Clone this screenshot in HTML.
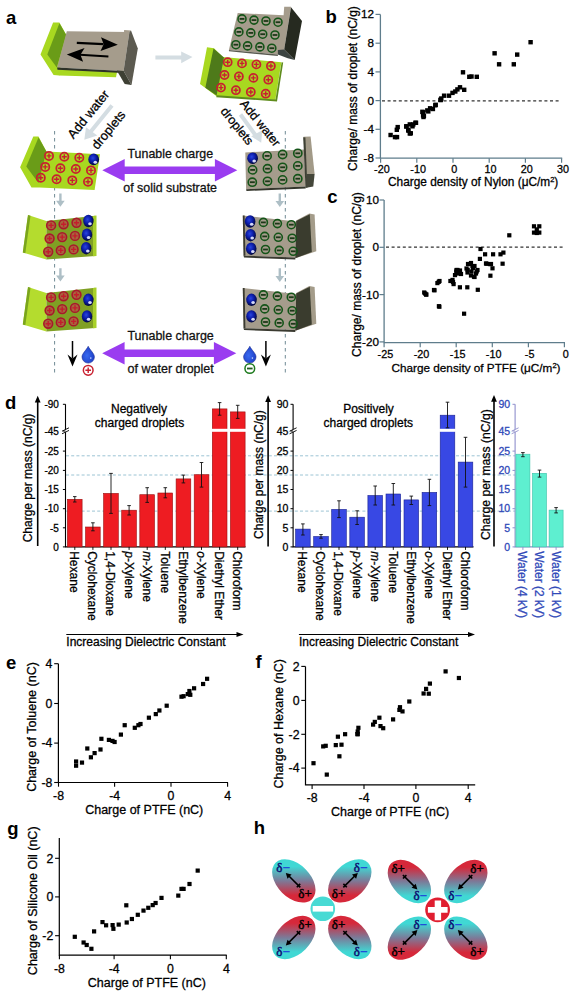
<!DOCTYPE html>
<html><head><meta charset="utf-8"><style>
html,body{margin:0;padding:0;background:#fff;}
svg{display:block;font-family:"Liberation Sans", sans-serif;}
</style></head><body>
<svg width="571" height="992" viewBox="0 0 571 992">
<rect width="571" height="992" fill="#fff"/>
<defs><radialGradient id="ball" cx="0.42" cy="0.38" r="0.62"><stop offset="0" stop-color="#2844e0"/><stop offset="0.5" stop-color="#0c1ca8"/><stop offset="1" stop-color="#030838"/></radialGradient><radialGradient id="drop" cx="0.4" cy="0.55" r="0.7"><stop offset="0" stop-color="#3a6af0"/><stop offset="1" stop-color="#1838c0"/></radialGradient></defs>
<text x="6.0" y="23.6" font-size="18.5" text-anchor="start" fill="#000" font-weight="bold" >a</text>
<polygon points="53.1,22.4 59.4,22.4 66.3,35.0 60.0,70.0 59.4,75.4 53.6,74.9 40.5,54.4" fill="#a8d820" />
<polygon points="59.4,23.2 66.3,35.0 56.8,67.5 47.3,54.4" fill="#6a9c18" />
<polygon points="57.3,69.0 117.0,72.0 116.0,77.3 59.0,75.4" fill="#a8d820" />
<polygon points="66.8,31.3 129.4,32.1 123.6,71.0 57.1,67.5" fill="#a59c8c" />
<polygon points="57.1,67.5 123.6,71.0 123.0,73.0 57.5,69.8" fill="#2e3228" />
<polygon points="124.1,30.0 131.0,30.5 129.4,32.1 124.0,32.0" fill="#a59c8c" />
<polygon points="131.0,30.5 137.8,48.4 131.5,85.1 123.6,71.0 129.4,32.1" fill="#5c5a50" />
<polygon points="116.8,70.4 123.6,71.0 131.5,85.1 124.7,84.1" fill="#3e4034" />
<path d="M76.8 42.9L103.5 44.1" stroke="#000" stroke-width="2.1"/>
<polygon points="117.8,44.7 101.0,37.3 103.7,44.2 100.5,51.0" fill="#000" />
<path d="M80 54.7L108.4 56.5" stroke="#000" stroke-width="2.1"/>
<polygon points="66.8,54.4 84.6,48.1 80.4,54.7 83.1,61.8" fill="#000" />
<path d="M155.4 55.4H181.2V51.4L192.5 57.1L181.2 63.3V59.4H155.4Z" fill="#d4dde2"/>
<polygon points="237.7,13.1 283.6,15.2 284.2,6.8 291.0,6.8 284.2,49.4 277.9,54.6 228.9,49.9" fill="#a59c8c" />
<polygon points="291.0,7.2 302.0,21.0 294.7,59.9 284.2,49.4" fill="#262a20" />
<polygon points="277.9,50.0 284.2,49.4 294.7,59.9 287.8,58.3 277.9,54.6" fill="#3c4442" />
<polygon points="228.9,49.9 277.9,54.6 277.9,56.0 229.0,51.3" fill="#5a5a50" />
<circle cx="242.0" cy="18.9" r="4.00" fill="none" stroke="#145418" stroke-width="1.6"/>
<path d="M239.6 18.9H244.4" stroke="#1c3818" stroke-width="1.8"/>
<circle cx="254.0" cy="20.1" r="4.00" fill="none" stroke="#145418" stroke-width="1.6"/>
<path d="M251.6 20.1H256.4" stroke="#1c3818" stroke-width="1.8"/>
<circle cx="266.0" cy="21.0" r="4.00" fill="none" stroke="#145418" stroke-width="1.6"/>
<path d="M263.6 21.0H268.4" stroke="#1c3818" stroke-width="1.8"/>
<circle cx="278.0" cy="22.2" r="4.00" fill="none" stroke="#145418" stroke-width="1.6"/>
<path d="M275.6 22.2H280.4" stroke="#1c3818" stroke-width="1.8"/>
<circle cx="238.9" cy="31.9" r="4.00" fill="none" stroke="#145418" stroke-width="1.6"/>
<path d="M236.5 31.9H241.3" stroke="#1c3818" stroke-width="1.8"/>
<circle cx="250.8" cy="32.9" r="4.00" fill="none" stroke="#145418" stroke-width="1.6"/>
<path d="M248.4 32.9H253.2" stroke="#1c3818" stroke-width="1.8"/>
<circle cx="262.7" cy="34.2" r="4.00" fill="none" stroke="#145418" stroke-width="1.6"/>
<path d="M260.3 34.2H265.1" stroke="#1c3818" stroke-width="1.8"/>
<circle cx="275.0" cy="35.0" r="4.00" fill="none" stroke="#145418" stroke-width="1.6"/>
<path d="M272.6 35.0H277.4" stroke="#1c3818" stroke-width="1.8"/>
<circle cx="235.9" cy="44.7" r="4.00" fill="none" stroke="#145418" stroke-width="1.6"/>
<path d="M233.5 44.7H238.3" stroke="#1c3818" stroke-width="1.8"/>
<circle cx="247.6" cy="45.9" r="4.00" fill="none" stroke="#145418" stroke-width="1.6"/>
<path d="M245.2 45.9H250.0" stroke="#1c3818" stroke-width="1.8"/>
<circle cx="259.9" cy="46.9" r="4.00" fill="none" stroke="#145418" stroke-width="1.6"/>
<path d="M257.5 46.9H262.3" stroke="#1c3818" stroke-width="1.8"/>
<circle cx="271.8" cy="48.2" r="4.00" fill="none" stroke="#145418" stroke-width="1.6"/>
<path d="M269.4 48.2H274.2" stroke="#1c3818" stroke-width="1.8"/>
<polygon points="207.0,47.3 214.0,48.2 222.8,57.0 281.4,62.2 275.3,100.0 216.6,96.3 200.0,84.0" fill="#a8d820" />
<polygon points="213.5,48.5 224.0,57.5 216.6,95.6 205.3,87.8" fill="#4e7a1a" />
<polygon points="216.6,95.2 275.5,99.5 281.6,62.2 283.2,62.6 277.0,101.4 216.3,97.2" fill="#5f8c1c" />
<circle cx="227.7" cy="62.2" r="4.03" fill="none" stroke="#c82030" stroke-width="1.75"/>
<path d="M225.2 62.2H230.1M227.7 59.8V64.7" stroke="#c82030" stroke-width="1.4"/>
<circle cx="242.0" cy="63.4" r="4.03" fill="none" stroke="#c82030" stroke-width="1.75"/>
<path d="M239.6 63.4H244.4M242.0 60.9V65.8" stroke="#c82030" stroke-width="1.4"/>
<circle cx="256.4" cy="64.4" r="4.03" fill="none" stroke="#c82030" stroke-width="1.75"/>
<path d="M253.9 64.4H258.8M256.4 62.0V66.9" stroke="#c82030" stroke-width="1.4"/>
<circle cx="270.9" cy="66.0" r="4.03" fill="none" stroke="#c82030" stroke-width="1.75"/>
<path d="M268.4 66.0H273.3M270.9 63.5V68.5" stroke="#c82030" stroke-width="1.4"/>
<circle cx="224.5" cy="75.0" r="4.03" fill="none" stroke="#c82030" stroke-width="1.75"/>
<path d="M222.1 75.0H226.9M224.5 72.5V77.5" stroke="#c82030" stroke-width="1.4"/>
<circle cx="238.9" cy="76.5" r="4.03" fill="none" stroke="#c82030" stroke-width="1.75"/>
<path d="M236.5 76.5H241.3M238.9 74.0V79.0" stroke="#c82030" stroke-width="1.4"/>
<circle cx="253.4" cy="77.9" r="4.03" fill="none" stroke="#c82030" stroke-width="1.75"/>
<path d="M251.0 77.9H255.8M253.4 75.5V80.4" stroke="#c82030" stroke-width="1.4"/>
<circle cx="268.3" cy="79.7" r="4.03" fill="none" stroke="#c82030" stroke-width="1.75"/>
<path d="M265.9 79.7H270.8M268.3 77.2V82.2" stroke="#c82030" stroke-width="1.4"/>
<circle cx="221.0" cy="87.6" r="4.03" fill="none" stroke="#c82030" stroke-width="1.75"/>
<path d="M218.6 87.6H223.4M221.0 85.1V90.0" stroke="#c82030" stroke-width="1.4"/>
<circle cx="235.9" cy="90.2" r="4.03" fill="none" stroke="#c82030" stroke-width="1.75"/>
<path d="M233.5 90.2H238.3M235.9 87.8V92.7" stroke="#c82030" stroke-width="1.4"/>
<circle cx="250.8" cy="92.0" r="4.03" fill="none" stroke="#c82030" stroke-width="1.75"/>
<path d="M248.4 92.0H253.2M250.8 89.5V94.5" stroke="#c82030" stroke-width="1.4"/>
<circle cx="265.7" cy="93.7" r="4.03" fill="none" stroke="#c82030" stroke-width="1.75"/>
<path d="M263.2 93.7H268.1M265.7 91.2V96.2" stroke="#c82030" stroke-width="1.4"/>
<path d="M112 105.5L90 132.5" stroke="#d4dde2" stroke-width="4"/>
<polygon points="84.3,139.8 86.0,127.3 97.3,135.6" fill="#d4dde2" />
<text x="0.0" y="0.0" font-size="12.8" text-anchor="start" fill="#000" font-weight="normal" transform="translate(73.6,139.5) rotate(-51)" stroke="#000" stroke-width="0.28">Add water</text>
<text x="0.0" y="0.0" font-size="12.8" text-anchor="start" fill="#000" font-weight="normal" transform="translate(97.5,150.3) rotate(-51)" stroke="#000" stroke-width="0.28">droplets</text>
<path d="M240.5 114.5L256.5 136.5" stroke="#d4dde2" stroke-width="4"/>
<polygon points="261.2,142.8 251.2,136.3 262.3,130.3" fill="#d4dde2" />
<text x="0.0" y="0.0" font-size="12.4" text-anchor="start" fill="#000" font-weight="normal" transform="translate(239.5,104) rotate(51)" stroke="#000" stroke-width="0.28">Add water</text>
<text x="0.0" y="0.0" font-size="12.4" text-anchor="start" fill="#000" font-weight="normal" transform="translate(220,111.5) rotate(51)" stroke="#000" stroke-width="0.28">droplets</text>
<path d="M54.6 131V376" stroke="#708a94" stroke-width="1" stroke-dasharray="3.5,3.5"/>
<path d="M285.3 131V376" stroke="#708a94" stroke-width="1" stroke-dasharray="3.5,3.5"/>
<polygon points="33.3,136.6 38.5,136.6 46.4,151.5 100.0,154.2 94.6,190.0 39.4,187.4 31.5,187.4 20.1,167.3" fill="#a8d820" />
<polygon points="38.5,137.5 46.4,151.5 38.5,183.0 26.3,166.4" fill="#6a9c18" />
<circle cx="49.0" cy="155.9" r="4.12" fill="none" stroke="#c82030" stroke-width="1.75"/>
<path d="M46.5 155.9H51.5M49.0 153.4V158.4" stroke="#c82030" stroke-width="1.4"/>
<circle cx="64.3" cy="156.8" r="4.12" fill="none" stroke="#c82030" stroke-width="1.75"/>
<path d="M61.8 156.8H66.8M64.3 154.3V159.3" stroke="#c82030" stroke-width="1.4"/>
<circle cx="79.3" cy="157.7" r="4.12" fill="none" stroke="#c82030" stroke-width="1.75"/>
<path d="M76.8 157.7H81.8M79.3 155.2V160.2" stroke="#c82030" stroke-width="1.4"/>
<circle cx="45.2" cy="166.9" r="4.12" fill="none" stroke="#c82030" stroke-width="1.75"/>
<path d="M42.7 166.9H47.7M45.2 164.4V169.4" stroke="#c82030" stroke-width="1.4"/>
<circle cx="60.4" cy="168.2" r="4.12" fill="none" stroke="#c82030" stroke-width="1.75"/>
<path d="M57.9 168.2H62.9M60.4 165.7V170.7" stroke="#c82030" stroke-width="1.4"/>
<circle cx="75.8" cy="169.0" r="4.12" fill="none" stroke="#c82030" stroke-width="1.75"/>
<path d="M73.3 169.0H78.3M75.8 166.5V171.5" stroke="#c82030" stroke-width="1.4"/>
<circle cx="91.0" cy="170.4" r="4.12" fill="none" stroke="#c82030" stroke-width="1.75"/>
<path d="M88.5 170.4H93.5M91.0 167.9V172.9" stroke="#c82030" stroke-width="1.4"/>
<circle cx="40.8" cy="177.8" r="4.12" fill="none" stroke="#c82030" stroke-width="1.75"/>
<path d="M38.3 177.8H43.3M40.8 175.3V180.3" stroke="#c82030" stroke-width="1.4"/>
<circle cx="56.6" cy="179.2" r="4.12" fill="none" stroke="#c82030" stroke-width="1.75"/>
<path d="M54.1 179.2H59.1M56.6 176.7V181.7" stroke="#c82030" stroke-width="1.4"/>
<circle cx="72.3" cy="180.4" r="4.12" fill="none" stroke="#c82030" stroke-width="1.75"/>
<path d="M69.8 180.4H74.8M72.3 177.9V182.9" stroke="#c82030" stroke-width="1.4"/>
<circle cx="88.0" cy="181.8" r="4.12" fill="none" stroke="#c82030" stroke-width="1.75"/>
<path d="M85.5 181.8H90.5M88.0 179.3V184.3" stroke="#c82030" stroke-width="1.4"/>
<ellipse cx="93.7" cy="159.4" rx="5.4" ry="5.8" fill="url(#ball)"/>
<ellipse cx="95.3" cy="162.2" rx="1.8" ry="1.5" fill="#e0e4ff" opacity="0.95"/>
<polygon points="245.3,152.4 303.9,149.4 305.7,186.5 246.1,189.2" fill="#a59c8c" />
<polygon points="246.1,189.2 305.7,186.5 305.7,188.5 246.5,191.0" fill="#34362c" />
<polygon points="303.5,136.8 310.6,136.5 314.6,174.0 306.3,175.0" fill="#a29a88" />
<polygon points="303.2,137.3 305.4,137.5 307.4,187.8 305.5,187.8" fill="#3e4034" />
<polygon points="306.3,174.0 314.6,174.0 313.3,186.5 306.3,187.8" fill="#44463a" />
<ellipse cx="252.6" cy="158.2" rx="5.4" ry="5.8" fill="url(#ball)"/>
<ellipse cx="254.2" cy="161.0" rx="1.8" ry="1.5" fill="#e0e4ff" opacity="0.95"/>
<circle cx="267.1" cy="155.9" r="4.10" fill="none" stroke="#145418" stroke-width="1.6"/>
<path d="M264.7 155.9H269.6" stroke="#1c3818" stroke-width="1.8"/>
<circle cx="282.6" cy="154.5" r="4.10" fill="none" stroke="#145418" stroke-width="1.6"/>
<path d="M280.2 154.5H285.1" stroke="#1c3818" stroke-width="1.8"/>
<circle cx="297.8" cy="153.3" r="4.10" fill="none" stroke="#145418" stroke-width="1.6"/>
<path d="M295.4 153.3H300.2" stroke="#1c3818" stroke-width="1.8"/>
<circle cx="252.6" cy="169.9" r="4.10" fill="none" stroke="#145418" stroke-width="1.6"/>
<path d="M250.2 169.9H255.0" stroke="#1c3818" stroke-width="1.8"/>
<circle cx="267.5" cy="168.7" r="4.10" fill="none" stroke="#145418" stroke-width="1.6"/>
<path d="M265.1 168.7H269.9" stroke="#1c3818" stroke-width="1.8"/>
<circle cx="282.6" cy="167.3" r="4.10" fill="none" stroke="#145418" stroke-width="1.6"/>
<path d="M280.2 167.3H285.1" stroke="#1c3818" stroke-width="1.8"/>
<circle cx="297.8" cy="165.9" r="4.10" fill="none" stroke="#145418" stroke-width="1.6"/>
<path d="M295.4 165.9H300.2" stroke="#1c3818" stroke-width="1.8"/>
<circle cx="252.3" cy="182.2" r="4.10" fill="none" stroke="#145418" stroke-width="1.6"/>
<path d="M249.9 182.2H254.8" stroke="#1c3818" stroke-width="1.8"/>
<circle cx="267.5" cy="181.3" r="4.10" fill="none" stroke="#145418" stroke-width="1.6"/>
<path d="M265.1 181.3H269.9" stroke="#1c3818" stroke-width="1.8"/>
<circle cx="282.6" cy="179.9" r="4.10" fill="none" stroke="#145418" stroke-width="1.6"/>
<path d="M280.2 179.9H285.1" stroke="#1c3818" stroke-width="1.8"/>
<circle cx="297.8" cy="178.7" r="4.10" fill="none" stroke="#145418" stroke-width="1.6"/>
<path d="M295.4 178.7H300.2" stroke="#1c3818" stroke-width="1.8"/>
<path d="M102.3 170.2L124.7 158.9V166.4H214.9V158.9L237.3 170.2L214.9 181.5V174.0H124.7V181.5Z" fill="#9a3cf0"/>
<text x="127.5" y="158.2" font-size="12.4" text-anchor="start" fill="#111" font-weight="normal"  stroke="#111" stroke-width="0.28">Tunable charge</text>
<text x="123.3" y="191.6" font-size="12.4" text-anchor="start" fill="#111" font-weight="normal"  stroke="#111" stroke-width="0.28">of solid substrate</text>
<path d="M102.2 353.3L124.6 342.0V349.5H213.9V342.0L236.3 353.3L213.9 364.6V357.1H124.6V364.6Z" fill="#9a3cf0"/>
<text x="127.4" y="339.7" font-size="12.5" text-anchor="start" fill="#111" font-weight="normal"  stroke="#111" stroke-width="0.28">Tunable charge</text>
<text x="127.6" y="372.5" font-size="12.5" text-anchor="start" fill="#111" font-weight="normal"  stroke="#111" stroke-width="0.28">of water droplet</text>
<path d="M59.2 193.5H61.6V200.7H64.7L60.4 206.7L56.1 200.7H59.2Z" fill="#aebfc6"/>
<path d="M278.6 193.5H281.0V201.1H284.1L279.8 207.1L275.5 201.1H278.6Z" fill="#aebfc6"/>
<path d="M59.2 268.3H61.6V275.5H64.7L60.4 281.5L56.1 275.5H59.2Z" fill="#aebfc6"/>
<path d="M278.6 268.3H281.0V275.9H284.1L279.8 281.9L275.5 275.9H278.6Z" fill="#aebfc6"/>
<polygon points="28.0,214.9 46.4,221.0 46.4,259.5 22.8,252.5" fill="#b4dc2e" />
<polygon points="28.0,214.9 30.5,215.7 25.3,253.3 22.8,252.5" fill="#7aa41e" />
<polygon points="46.4,221.0 95.4,215.8 95.4,256.0 46.4,259.5" fill="#80a024" />
<polygon points="93.0,216.0 96.5,215.6 96.5,256.0 93.0,256.3" fill="#a8d02a" />
<circle cx="51.1" cy="225.4" r="4.40" fill="#a8643c" stroke="#a8182c" stroke-width="1.6"/>
<path d="M48.5 225.4H53.7M51.1 222.8V228.0" stroke="#c41c2c" stroke-width="1.4"/>
<circle cx="63.6" cy="224.2" r="4.40" fill="#a8643c" stroke="#a8182c" stroke-width="1.6"/>
<path d="M61.0 224.2H66.2M63.6 221.6V226.8" stroke="#c41c2c" stroke-width="1.4"/>
<circle cx="76.5" cy="222.8" r="4.40" fill="#a8643c" stroke="#a8182c" stroke-width="1.6"/>
<path d="M73.9 222.8H79.1M76.5 220.2V225.4" stroke="#c41c2c" stroke-width="1.4"/>
<circle cx="49.6" cy="238.5" r="4.40" fill="#a8643c" stroke="#a8182c" stroke-width="1.6"/>
<path d="M47.0 238.5H52.2M49.6 235.9V241.1" stroke="#c41c2c" stroke-width="1.4"/>
<circle cx="62.2" cy="237.1" r="4.40" fill="#a8643c" stroke="#a8182c" stroke-width="1.6"/>
<path d="M59.6 237.1H64.8M62.2 234.5V239.7" stroke="#c41c2c" stroke-width="1.4"/>
<circle cx="75.0" cy="235.9" r="4.40" fill="#a8643c" stroke="#a8182c" stroke-width="1.6"/>
<path d="M72.4 235.9H77.6M75.0 233.3V238.5" stroke="#c41c2c" stroke-width="1.4"/>
<circle cx="48.2" cy="251.7" r="4.40" fill="#a8643c" stroke="#a8182c" stroke-width="1.6"/>
<path d="M45.6 251.7H50.8M48.2 249.1V254.3" stroke="#c41c2c" stroke-width="1.4"/>
<circle cx="60.8" cy="250.4" r="4.40" fill="#a8643c" stroke="#a8182c" stroke-width="1.6"/>
<path d="M58.2 250.4H63.4M60.8 247.8V253.0" stroke="#c41c2c" stroke-width="1.4"/>
<circle cx="73.6" cy="249.4" r="4.40" fill="#a8643c" stroke="#a8182c" stroke-width="1.6"/>
<path d="M71.0 249.4H76.2M73.6 246.8V252.0" stroke="#c41c2c" stroke-width="1.4"/>
<ellipse cx="88.4" cy="221.0" rx="5.2" ry="6.2" fill="url(#ball)"/>
<ellipse cx="90.0" cy="223.8" rx="1.8" ry="1.5" fill="#e0e4ff" opacity="0.95"/>
<ellipse cx="87.0" cy="234.7" rx="5.2" ry="6.2" fill="url(#ball)"/>
<ellipse cx="88.6" cy="237.5" rx="1.8" ry="1.5" fill="#e0e4ff" opacity="0.95"/>
<ellipse cx="86.2" cy="248.2" rx="5.2" ry="6.2" fill="url(#ball)"/>
<ellipse cx="87.8" cy="251.0" rx="1.8" ry="1.5" fill="#e0e4ff" opacity="0.95"/>
<polygon points="28.0,286.9 46.4,293.0 46.4,331.5 22.8,324.5" fill="#b4dc2e" />
<polygon points="28.0,286.9 30.5,287.7 25.3,325.3 22.8,324.5" fill="#7aa41e" />
<polygon points="46.4,293.0 95.4,287.8 95.4,328.0 46.4,331.5" fill="#80a024" />
<polygon points="93.0,288.0 96.5,287.6 96.5,328.0 93.0,328.3" fill="#a8d02a" />
<circle cx="51.1" cy="297.4" r="4.40" fill="#a8643c" stroke="#a8182c" stroke-width="1.6"/>
<path d="M48.5 297.4H53.7M51.1 294.8V300.0" stroke="#c41c2c" stroke-width="1.4"/>
<circle cx="63.6" cy="296.2" r="4.40" fill="#a8643c" stroke="#a8182c" stroke-width="1.6"/>
<path d="M61.0 296.2H66.2M63.6 293.6V298.8" stroke="#c41c2c" stroke-width="1.4"/>
<circle cx="76.5" cy="294.8" r="4.40" fill="#a8643c" stroke="#a8182c" stroke-width="1.6"/>
<path d="M73.9 294.8H79.1M76.5 292.2V297.4" stroke="#c41c2c" stroke-width="1.4"/>
<circle cx="49.6" cy="310.5" r="4.40" fill="#a8643c" stroke="#a8182c" stroke-width="1.6"/>
<path d="M47.0 310.5H52.2M49.6 307.9V313.1" stroke="#c41c2c" stroke-width="1.4"/>
<circle cx="62.2" cy="309.1" r="4.40" fill="#a8643c" stroke="#a8182c" stroke-width="1.6"/>
<path d="M59.6 309.1H64.8M62.2 306.5V311.7" stroke="#c41c2c" stroke-width="1.4"/>
<circle cx="75.0" cy="307.9" r="4.40" fill="#a8643c" stroke="#a8182c" stroke-width="1.6"/>
<path d="M72.4 307.9H77.6M75.0 305.3V310.5" stroke="#c41c2c" stroke-width="1.4"/>
<circle cx="48.2" cy="323.7" r="4.40" fill="#a8643c" stroke="#a8182c" stroke-width="1.6"/>
<path d="M45.6 323.7H50.8M48.2 321.1V326.3" stroke="#c41c2c" stroke-width="1.4"/>
<circle cx="60.8" cy="322.4" r="4.40" fill="#a8643c" stroke="#a8182c" stroke-width="1.6"/>
<path d="M58.2 322.4H63.4M60.8 319.8V325.0" stroke="#c41c2c" stroke-width="1.4"/>
<circle cx="73.6" cy="321.4" r="4.40" fill="#a8643c" stroke="#a8182c" stroke-width="1.6"/>
<path d="M71.0 321.4H76.2M73.6 318.8V324.0" stroke="#c41c2c" stroke-width="1.4"/>
<ellipse cx="88.4" cy="299.8" rx="5.2" ry="6.2" fill="url(#ball)"/>
<ellipse cx="90.0" cy="302.6" rx="1.8" ry="1.5" fill="#e0e4ff" opacity="0.95"/>
<ellipse cx="87.0" cy="316.4" rx="5.2" ry="6.2" fill="url(#ball)"/>
<ellipse cx="88.6" cy="319.2" rx="1.8" ry="1.5" fill="#e0e4ff" opacity="0.95"/>
<polygon points="242.8,215.4 296.2,221.5 295.3,257.4 243.6,255.7" fill="#a59c8c" />
<polygon points="242.8,215.4 244.6,215.6 245.4,255.8 243.6,255.7" fill="#3a3a30" />
<polygon points="243.6,255.7 295.3,257.4 295.3,259.4 244.0,257.6" fill="#3a3a30" />
<polygon points="296.2,220.6 309.3,213.6 314.6,214.5 316.3,251.3 295.3,258.3" fill="#a49c8a" />
<polygon points="296.2,221.0 309.8,214.2 311.8,252.0 295.3,258.3" fill="#3a3c2e" />
<ellipse cx="250.1" cy="221.5" rx="5.3" ry="6.2" fill="url(#ball)"/>
<ellipse cx="251.7" cy="224.3" rx="1.8" ry="1.5" fill="#e0e4ff" opacity="0.95"/>
<ellipse cx="250.6" cy="235.2" rx="5.3" ry="6.2" fill="url(#ball)"/>
<ellipse cx="252.2" cy="238.0" rx="1.8" ry="1.5" fill="#e0e4ff" opacity="0.95"/>
<ellipse cx="251.2" cy="248.7" rx="5.3" ry="6.2" fill="url(#ball)"/>
<ellipse cx="252.8" cy="251.5" rx="1.8" ry="1.5" fill="#e0e4ff" opacity="0.95"/>
<circle cx="263.4" cy="222.4" r="4.00" fill="none" stroke="#145418" stroke-width="1.6"/>
<path d="M261.0 222.4H265.8" stroke="#1c3818" stroke-width="1.8"/>
<circle cx="277.4" cy="223.6" r="4.00" fill="none" stroke="#145418" stroke-width="1.6"/>
<path d="M275.0 223.6H279.8" stroke="#1c3818" stroke-width="1.8"/>
<circle cx="291.3" cy="224.7" r="4.00" fill="none" stroke="#145418" stroke-width="1.6"/>
<path d="M288.9 224.7H293.7" stroke="#1c3818" stroke-width="1.8"/>
<circle cx="264.7" cy="236.4" r="4.00" fill="none" stroke="#145418" stroke-width="1.6"/>
<path d="M262.3 236.4H267.1" stroke="#1c3818" stroke-width="1.8"/>
<circle cx="278.3" cy="237.3" r="4.00" fill="none" stroke="#145418" stroke-width="1.6"/>
<path d="M275.9 237.3H280.7" stroke="#1c3818" stroke-width="1.8"/>
<circle cx="292.2" cy="238.2" r="4.00" fill="none" stroke="#145418" stroke-width="1.6"/>
<path d="M289.8 238.2H294.6" stroke="#1c3818" stroke-width="1.8"/>
<circle cx="265.5" cy="249.5" r="4.00" fill="none" stroke="#145418" stroke-width="1.6"/>
<path d="M263.1 249.5H267.9" stroke="#1c3818" stroke-width="1.8"/>
<circle cx="279.2" cy="250.4" r="4.00" fill="none" stroke="#145418" stroke-width="1.6"/>
<path d="M276.8 250.4H281.6" stroke="#1c3818" stroke-width="1.8"/>
<circle cx="293.2" cy="251.3" r="4.00" fill="none" stroke="#145418" stroke-width="1.6"/>
<path d="M290.8 251.3H295.6" stroke="#1c3818" stroke-width="1.8"/>
<polygon points="242.8,287.9 296.2,294.0 295.3,329.9 243.6,328.2" fill="#a59c8c" />
<polygon points="242.8,287.9 244.6,288.1 245.4,328.3 243.6,328.2" fill="#3a3a30" />
<polygon points="243.6,328.2 295.3,329.9 295.3,331.9 244.0,330.1" fill="#3a3a30" />
<polygon points="296.2,293.1 309.3,286.1 314.6,287.0 316.3,323.8 295.3,330.8" fill="#a49c8a" />
<polygon points="296.2,293.5 309.8,286.7 311.8,324.5 295.3,330.8" fill="#3a3c2e" />
<ellipse cx="251.5" cy="299.8" rx="5.3" ry="6.2" fill="url(#ball)"/>
<ellipse cx="253.1" cy="302.6" rx="1.8" ry="1.5" fill="#e0e4ff" opacity="0.95"/>
<ellipse cx="251.5" cy="316.4" rx="5.3" ry="6.2" fill="url(#ball)"/>
<ellipse cx="253.1" cy="319.2" rx="1.8" ry="1.5" fill="#e0e4ff" opacity="0.95"/>
<circle cx="263.4" cy="294.9" r="4.00" fill="none" stroke="#145418" stroke-width="1.6"/>
<path d="M261.0 294.9H265.8" stroke="#1c3818" stroke-width="1.8"/>
<circle cx="277.4" cy="296.1" r="4.00" fill="none" stroke="#145418" stroke-width="1.6"/>
<path d="M275.0 296.1H279.8" stroke="#1c3818" stroke-width="1.8"/>
<circle cx="291.3" cy="297.2" r="4.00" fill="none" stroke="#145418" stroke-width="1.6"/>
<path d="M288.9 297.2H293.7" stroke="#1c3818" stroke-width="1.8"/>
<circle cx="264.7" cy="308.9" r="4.00" fill="none" stroke="#145418" stroke-width="1.6"/>
<path d="M262.3 308.9H267.1" stroke="#1c3818" stroke-width="1.8"/>
<circle cx="278.3" cy="309.8" r="4.00" fill="none" stroke="#145418" stroke-width="1.6"/>
<path d="M275.9 309.8H280.7" stroke="#1c3818" stroke-width="1.8"/>
<circle cx="292.2" cy="310.7" r="4.00" fill="none" stroke="#145418" stroke-width="1.6"/>
<path d="M289.8 310.7H294.6" stroke="#1c3818" stroke-width="1.8"/>
<circle cx="265.5" cy="322.0" r="4.00" fill="none" stroke="#145418" stroke-width="1.6"/>
<path d="M263.1 322.0H267.9" stroke="#1c3818" stroke-width="1.8"/>
<circle cx="279.2" cy="322.9" r="4.00" fill="none" stroke="#145418" stroke-width="1.6"/>
<path d="M276.8 322.9H281.6" stroke="#1c3818" stroke-width="1.8"/>
<circle cx="293.2" cy="323.8" r="4.00" fill="none" stroke="#145418" stroke-width="1.6"/>
<path d="M290.8 323.8H295.6" stroke="#1c3818" stroke-width="1.8"/>
<path d="M72.5 341.0V358.5" stroke="#000" stroke-width="1.5"/>
<path d="M67.5 354.5L72.5 366.5L77.5 354.5L72.5 358.5Z" fill="#000"/>
<path d="M265.9 341.0V358.5" stroke="#000" stroke-width="1.5"/>
<path d="M260.9 354.5L265.9 366.5L270.9 354.5L265.9 358.5Z" fill="#000"/>
<path d="M88.2 346.3C89.7 349.7 94.4 353.5 94.4 356.9A6.2 6.2 0 0 1 82.0 356.9C82.0 353.5 86.7 349.7 88.2 346.3Z" fill="url(#drop)" stroke="#1a2a90" stroke-width="0.6"/>
<circle cx="90.8" cy="358.1" r="0.8" fill="#c8d4ff"/>
<path d="M249.8 346.3C251.3 349.7 256.0 353.5 256.0 356.9A6.2 6.2 0 0 1 243.6 356.9C243.6 353.5 248.3 349.7 249.8 346.3Z" fill="url(#drop)" stroke="#1a2a90" stroke-width="0.6"/>
<circle cx="252.4" cy="358.1" r="0.8" fill="#c8d4ff"/>
<circle cx="88.2" cy="370.3" r="4.85" fill="none" stroke="#c82030" stroke-width="1.5"/>
<path d="M85.4 370.3H91.0M88.2 367.5V373.1" stroke="#c82030" stroke-width="1.4"/>
<circle cx="249.8" cy="368.5" r="4.85" fill="none" stroke="#1d7a1d" stroke-width="1.5"/>
<path d="M247.0 368.5H252.6" stroke="#1d5a1d" stroke-width="1.8"/>
<text x="325.5" y="22.8" font-size="18.5" text-anchor="start" fill="#000" font-weight="bold" >b</text>
<path d="M380.4 14.6V158.2H562.2" stroke="#5f7d8c" stroke-width="1.3" fill="none"/>
<path d="M375.5 14.4H380.4" stroke="#5f7d8c" stroke-width="1.2"/>
<text x="374.0" y="18.4" font-size="11.7" text-anchor="end" fill="#000" font-weight="normal"  stroke="#000" stroke-width="0.28">12</text>
<path d="M375.5 43.2H380.4" stroke="#5f7d8c" stroke-width="1.2"/>
<text x="374.0" y="47.2" font-size="11.7" text-anchor="end" fill="#000" font-weight="normal"  stroke="#000" stroke-width="0.28">8</text>
<path d="M375.5 71.9H380.4" stroke="#5f7d8c" stroke-width="1.2"/>
<text x="374.0" y="75.9" font-size="11.7" text-anchor="end" fill="#000" font-weight="normal"  stroke="#000" stroke-width="0.28">4</text>
<path d="M375.5 100.6H380.4" stroke="#5f7d8c" stroke-width="1.2"/>
<text x="374.0" y="104.6" font-size="11.7" text-anchor="end" fill="#000" font-weight="normal"  stroke="#000" stroke-width="0.28">0</text>
<path d="M375.5 129.3H380.4" stroke="#5f7d8c" stroke-width="1.2"/>
<text x="374.0" y="133.3" font-size="11.7" text-anchor="end" fill="#000" font-weight="normal"  stroke="#000" stroke-width="0.28">-4</text>
<path d="M375.5 158.0H380.4" stroke="#5f7d8c" stroke-width="1.2"/>
<text x="374.0" y="162.0" font-size="11.7" text-anchor="end" fill="#000" font-weight="normal"  stroke="#000" stroke-width="0.28">-8</text>
<path d="M380.6 158.2V162.8" stroke="#5f7d8c" stroke-width="1.2"/>
<text x="381.9" y="172.8" font-size="10.8" text-anchor="middle" fill="#000" font-weight="normal"  stroke="#000" stroke-width="0.28">-20</text>
<path d="M416.8 158.2V162.8" stroke="#5f7d8c" stroke-width="1.2"/>
<text x="418.1" y="172.8" font-size="10.8" text-anchor="middle" fill="#000" font-weight="normal"  stroke="#000" stroke-width="0.28">-10</text>
<path d="M453.0 158.2V162.8" stroke="#5f7d8c" stroke-width="1.2"/>
<text x="454.3" y="172.8" font-size="10.8" text-anchor="middle" fill="#000" font-weight="normal"  stroke="#000" stroke-width="0.28">0</text>
<path d="M489.2 158.2V162.8" stroke="#5f7d8c" stroke-width="1.2"/>
<text x="490.5" y="172.8" font-size="10.8" text-anchor="middle" fill="#000" font-weight="normal"  stroke="#000" stroke-width="0.28">10</text>
<path d="M525.4 158.2V162.8" stroke="#5f7d8c" stroke-width="1.2"/>
<text x="526.7" y="172.8" font-size="10.8" text-anchor="middle" fill="#000" font-weight="normal"  stroke="#000" stroke-width="0.28">20</text>
<path d="M561.6 158.2V162.8" stroke="#5f7d8c" stroke-width="1.2"/>
<text x="562.9" y="172.8" font-size="10.8" text-anchor="middle" fill="#000" font-weight="normal"  stroke="#000" stroke-width="0.28">30</text>
<text x="388.0" y="186.0" font-size="11.85" text-anchor="start" fill="#000" font-weight="normal"  stroke="#000" stroke-width="0.28">Charge density of Nylon (μC/m<tspan font-size="7.5" dy="-4">2</tspan><tspan dy="4">)</tspan></text>
<text x="0.0" y="0.0" font-size="12" text-anchor="middle" fill="#000" font-weight="normal" transform="translate(356.8,88.5) rotate(-90)" stroke="#000" stroke-width="0.28">Charge/ mass of droplet (nC/g)</text>
<path d="M382 100.8H560" stroke="#333" stroke-width="1.2" stroke-dasharray="3,2.6"/>
<rect x="528.4" y="40.0" width="4.4" height="4.4" fill="#000"/>
<rect x="492.4" y="51.1" width="4.4" height="4.4" fill="#000"/>
<rect x="515.0" y="52.4" width="4.4" height="4.4" fill="#000"/>
<rect x="496.9" y="62.1" width="4.4" height="4.4" fill="#000"/>
<rect x="511.6" y="62.1" width="4.4" height="4.4" fill="#000"/>
<rect x="460.8" y="70.1" width="4.4" height="4.4" fill="#000"/>
<rect x="467.1" y="74.6" width="4.4" height="4.4" fill="#000"/>
<rect x="469.3" y="74.3" width="4.4" height="4.4" fill="#000"/>
<rect x="474.6" y="74.6" width="4.4" height="4.4" fill="#000"/>
<rect x="457.8" y="85.1" width="4.4" height="4.4" fill="#000"/>
<rect x="462.0" y="87.6" width="4.4" height="4.4" fill="#000"/>
<rect x="455.2" y="87.2" width="4.4" height="4.4" fill="#000"/>
<rect x="453.1" y="89.3" width="4.4" height="4.4" fill="#000"/>
<rect x="450.3" y="90.7" width="4.4" height="4.4" fill="#000"/>
<rect x="446.8" y="93.5" width="4.4" height="4.4" fill="#000"/>
<rect x="441.9" y="93.5" width="4.4" height="4.4" fill="#000"/>
<rect x="439.1" y="96.3" width="4.4" height="4.4" fill="#000"/>
<rect x="438.4" y="97.7" width="4.4" height="4.4" fill="#000"/>
<rect x="433.5" y="102.6" width="4.4" height="4.4" fill="#000"/>
<rect x="430.7" y="106.8" width="4.4" height="4.4" fill="#000"/>
<rect x="427.9" y="106.1" width="4.4" height="4.4" fill="#000"/>
<rect x="425.1" y="108.2" width="4.4" height="4.4" fill="#000"/>
<rect x="420.2" y="109.6" width="4.4" height="4.4" fill="#000"/>
<rect x="420.9" y="113.1" width="4.4" height="4.4" fill="#000"/>
<rect x="421.3" y="114.8" width="4.4" height="4.4" fill="#000"/>
<rect x="413.2" y="120.6" width="4.4" height="4.4" fill="#000"/>
<rect x="411.1" y="122.2" width="4.4" height="4.4" fill="#000"/>
<rect x="407.6" y="122.2" width="4.4" height="4.4" fill="#000"/>
<rect x="404.1" y="124.3" width="4.4" height="4.4" fill="#000"/>
<rect x="406.2" y="128.5" width="4.4" height="4.4" fill="#000"/>
<rect x="407.6" y="131.3" width="4.4" height="4.4" fill="#000"/>
<rect x="388.4" y="132.8" width="4.4" height="4.4" fill="#000"/>
<rect x="392.8" y="134.9" width="4.4" height="4.4" fill="#000"/>
<rect x="394.8" y="134.9" width="4.4" height="4.4" fill="#000"/>
<rect x="394.6" y="127.6" width="4.4" height="4.4" fill="#000"/>
<rect x="395.5" y="124.9" width="4.4" height="4.4" fill="#000"/>
<rect x="404.2" y="124.1" width="4.4" height="4.4" fill="#000"/>
<rect x="406.0" y="127.6" width="4.4" height="4.4" fill="#000"/>
<rect x="408.6" y="131.1" width="4.4" height="4.4" fill="#000"/>
<rect x="410.3" y="124.1" width="4.4" height="4.4" fill="#000"/>
<rect x="413.8" y="120.6" width="4.4" height="4.4" fill="#000"/>
<rect x="420.8" y="110.1" width="4.4" height="4.4" fill="#000"/>
<rect x="421.7" y="113.6" width="4.4" height="4.4" fill="#000"/>
<rect x="426.1" y="109.2" width="4.4" height="4.4" fill="#000"/>
<rect x="433.1" y="103.1" width="4.4" height="4.4" fill="#000"/>
<rect x="438.4" y="97.8" width="4.4" height="4.4" fill="#000"/>
<text x="327.2" y="202.8" font-size="18.5" text-anchor="start" fill="#000" font-weight="bold" >c</text>
<path d="M384.1 200V342.7H565" stroke="#5f7d8c" stroke-width="1.3" fill="none"/>
<path d="M379.5 200.0H384.1" stroke="#5f7d8c" stroke-width="1.2"/>
<text x="379.0" y="204.0" font-size="11.7" text-anchor="end" fill="#000" font-weight="normal"  stroke="#000" stroke-width="0.28">10</text>
<path d="M379.5 247.3H384.1" stroke="#5f7d8c" stroke-width="1.2"/>
<text x="379.0" y="251.3" font-size="11.7" text-anchor="end" fill="#000" font-weight="normal"  stroke="#000" stroke-width="0.28">0</text>
<path d="M379.5 294.6H384.1" stroke="#5f7d8c" stroke-width="1.2"/>
<text x="379.0" y="298.6" font-size="11.7" text-anchor="end" fill="#000" font-weight="normal"  stroke="#000" stroke-width="0.28">-10</text>
<path d="M379.5 341.9H384.1" stroke="#5f7d8c" stroke-width="1.2"/>
<text x="379.0" y="345.9" font-size="11.7" text-anchor="end" fill="#000" font-weight="normal"  stroke="#000" stroke-width="0.28">-20</text>
<path d="M384.1 342.7V347.3" stroke="#5f7d8c" stroke-width="1.2"/>
<text x="385.4" y="358.0" font-size="10.8" text-anchor="middle" fill="#000" font-weight="normal"  stroke="#000" stroke-width="0.28">-25</text>
<path d="M420.2 342.7V347.3" stroke="#5f7d8c" stroke-width="1.2"/>
<text x="421.5" y="358.0" font-size="10.8" text-anchor="middle" fill="#000" font-weight="normal"  stroke="#000" stroke-width="0.28">-20</text>
<path d="M456.2 342.7V347.3" stroke="#5f7d8c" stroke-width="1.2"/>
<text x="457.6" y="358.0" font-size="10.8" text-anchor="middle" fill="#000" font-weight="normal"  stroke="#000" stroke-width="0.28">-15</text>
<path d="M492.3 342.7V347.3" stroke="#5f7d8c" stroke-width="1.2"/>
<text x="493.6" y="358.0" font-size="10.8" text-anchor="middle" fill="#000" font-weight="normal"  stroke="#000" stroke-width="0.28">-10</text>
<path d="M528.4 342.7V347.3" stroke="#5f7d8c" stroke-width="1.2"/>
<text x="529.6" y="358.0" font-size="10.8" text-anchor="middle" fill="#000" font-weight="normal"  stroke="#000" stroke-width="0.28">-5</text>
<path d="M564.4 342.7V347.3" stroke="#5f7d8c" stroke-width="1.2"/>
<text x="565.7" y="358.0" font-size="10.8" text-anchor="middle" fill="#000" font-weight="normal"  stroke="#000" stroke-width="0.28">0</text>
<text x="391.5" y="371.8" font-size="11.75" text-anchor="start" fill="#000" font-weight="normal"  stroke="#000" stroke-width="0.28">Charge density of PTFE (μC/m<tspan font-size="7.5" dy="-4">2</tspan><tspan dy="4">)</tspan></text>
<text x="0.0" y="0.0" font-size="12" text-anchor="middle" fill="#000" font-weight="normal" transform="translate(360.7,274.5) rotate(-90)" stroke="#000" stroke-width="0.28">Charge/ mass of droplet (nC/g)</text>
<path d="M386 247.1H563" stroke="#333" stroke-width="1.2" stroke-dasharray="3,2.6"/>
<rect x="423.0" y="291.4" width="4.2" height="4.2" fill="#000"/>
<rect x="424.0" y="292.4" width="4.2" height="4.2" fill="#000"/>
<rect x="432.4" y="288.2" width="4.2" height="4.2" fill="#000"/>
<rect x="436.6" y="279.8" width="4.2" height="4.2" fill="#000"/>
<rect x="437.3" y="304.6" width="4.2" height="4.2" fill="#000"/>
<rect x="462.0" y="311.6" width="4.2" height="4.2" fill="#000"/>
<rect x="507.2" y="233.2" width="4.2" height="4.2" fill="#000"/>
<rect x="478.4" y="246.9" width="4.2" height="4.2" fill="#000"/>
<rect x="483.0" y="252.2" width="4.2" height="4.2" fill="#000"/>
<rect x="491.0" y="252.2" width="4.2" height="4.2" fill="#000"/>
<rect x="498.4" y="252.2" width="4.2" height="4.2" fill="#000"/>
<rect x="501.3" y="250.5" width="4.2" height="4.2" fill="#000"/>
<rect x="477.8" y="256.8" width="4.2" height="4.2" fill="#000"/>
<rect x="484.5" y="261.6" width="4.2" height="4.2" fill="#000"/>
<rect x="487.9" y="262.0" width="4.2" height="4.2" fill="#000"/>
<rect x="490.4" y="266.2" width="4.2" height="4.2" fill="#000"/>
<rect x="500.5" y="261.6" width="4.2" height="4.2" fill="#000"/>
<rect x="488.3" y="273.6" width="4.2" height="4.2" fill="#000"/>
<rect x="467.3" y="262.0" width="4.2" height="4.2" fill="#000"/>
<rect x="470.4" y="264.1" width="4.2" height="4.2" fill="#000"/>
<rect x="465.6" y="267.7" width="4.2" height="4.2" fill="#000"/>
<rect x="469.4" y="269.4" width="4.2" height="4.2" fill="#000"/>
<rect x="474.6" y="269.4" width="4.2" height="4.2" fill="#000"/>
<rect x="471.9" y="274.6" width="4.2" height="4.2" fill="#000"/>
<rect x="454.2" y="269.4" width="4.2" height="4.2" fill="#000"/>
<rect x="457.8" y="270.4" width="4.2" height="4.2" fill="#000"/>
<rect x="452.9" y="273.0" width="4.2" height="4.2" fill="#000"/>
<rect x="450.4" y="277.8" width="4.2" height="4.2" fill="#000"/>
<rect x="451.5" y="282.0" width="4.2" height="4.2" fill="#000"/>
<rect x="448.3" y="278.9" width="4.2" height="4.2" fill="#000"/>
<rect x="457.8" y="285.2" width="4.2" height="4.2" fill="#000"/>
<rect x="465.2" y="285.2" width="4.2" height="4.2" fill="#000"/>
<rect x="475.7" y="287.7" width="4.2" height="4.2" fill="#000"/>
<rect x="437.4" y="278.9" width="4.2" height="4.2" fill="#000"/>
<rect x="435.3" y="281.0" width="4.2" height="4.2" fill="#000"/>
<rect x="431.9" y="287.9" width="4.2" height="4.2" fill="#000"/>
<rect x="422.1" y="290.4" width="4.2" height="4.2" fill="#000"/>
<rect x="424.2" y="292.5" width="4.2" height="4.2" fill="#000"/>
<rect x="436.8" y="304.1" width="4.2" height="4.2" fill="#000"/>
<rect x="531.9" y="224.2" width="4.2" height="4.2" fill="#000"/>
<rect x="537.2" y="224.2" width="4.2" height="4.2" fill="#000"/>
<rect x="531.9" y="230.5" width="4.2" height="4.2" fill="#000"/>
<rect x="537.2" y="230.5" width="4.2" height="4.2" fill="#000"/>
<rect x="534.7" y="227.3" width="4.2" height="4.2" fill="#000"/>
<rect x="534.7" y="230.9" width="4.2" height="4.2" fill="#000"/>
<rect x="455.4" y="267.9" width="4.2" height="4.2" fill="#000"/>
<rect x="470.9" y="265.9" width="4.2" height="4.2" fill="#000"/>
<rect x="454.4" y="267.9" width="4.2" height="4.2" fill="#000"/>
<rect x="457.9" y="268.4" width="4.2" height="4.2" fill="#000"/>
<rect x="454.9" y="271.4" width="4.2" height="4.2" fill="#000"/>
<rect x="458.9" y="271.9" width="4.2" height="4.2" fill="#000"/>
<rect x="465.9" y="261.9" width="4.2" height="4.2" fill="#000"/>
<rect x="468.9" y="260.9" width="4.2" height="4.2" fill="#000"/>
<rect x="472.4" y="263.9" width="4.2" height="4.2" fill="#000"/>
<rect x="464.4" y="266.4" width="4.2" height="4.2" fill="#000"/>
<rect x="465.4" y="270.4" width="4.2" height="4.2" fill="#000"/>
<rect x="468.9" y="273.4" width="4.2" height="4.2" fill="#000"/>
<rect x="472.4" y="274.9" width="4.2" height="4.2" fill="#000"/>
<rect x="475.4" y="267.9" width="4.2" height="4.2" fill="#000"/>
<rect x="473.9" y="271.4" width="4.2" height="4.2" fill="#000"/>
<rect x="450.9" y="279.9" width="4.2" height="4.2" fill="#000"/>
<rect x="483.9" y="261.4" width="4.2" height="4.2" fill="#000"/>
<rect x="488.9" y="261.9" width="4.2" height="4.2" fill="#000"/>
<text x="5.0" y="408.6" font-size="18.5" text-anchor="start" fill="#000" font-weight="bold" >d</text>
<path d="M66 455.8H515" stroke="#9cc4d4" stroke-width="1" stroke-dasharray="3,2.2"/>
<path d="M66 475.0H515" stroke="#9cc4d4" stroke-width="1" stroke-dasharray="3,2.2"/>
<path d="M66 511.1H515" stroke="#9cc4d4" stroke-width="1" stroke-dasharray="3,2.2"/>
<path d="M65.5 404.3V546.9H245.5" stroke="#000" stroke-width="1.1" fill="none"/>
<path d="M62.0 431.2L69.0 427.8L69.0 430.4L62.0 433.8Z" fill="#fff"/>
<path d="M62.0 431.2L69.0 427.8M62.0 433.8L69.0 430.4" stroke="#000" stroke-width="0.9"/>
<path d="M62.9 404.3H65.5" stroke="#000" stroke-width="1"/>
<text x="58.9" y="408.0" font-size="10" text-anchor="end" fill="#000" font-weight="normal"  stroke="#000" stroke-width="0.28">-90</text>
<path d="M62.9 431.0H65.5" stroke="#000" stroke-width="1"/>
<text x="58.9" y="434.7" font-size="10" text-anchor="end" fill="#000" font-weight="normal"  stroke="#000" stroke-width="0.28">-45</text>
<path d="M62.9 451.1H65.5" stroke="#000" stroke-width="1"/>
<text x="58.9" y="454.8" font-size="10" text-anchor="end" fill="#000" font-weight="normal"  stroke="#000" stroke-width="0.28">-25</text>
<path d="M62.9 470.4H65.5" stroke="#000" stroke-width="1"/>
<text x="58.9" y="474.1" font-size="10" text-anchor="end" fill="#000" font-weight="normal"  stroke="#000" stroke-width="0.28">-20</text>
<path d="M62.9 489.5H65.5" stroke="#000" stroke-width="1"/>
<text x="58.9" y="493.2" font-size="10" text-anchor="end" fill="#000" font-weight="normal"  stroke="#000" stroke-width="0.28">-15</text>
<path d="M62.9 508.7H65.5" stroke="#000" stroke-width="1"/>
<text x="58.9" y="512.4" font-size="10" text-anchor="end" fill="#000" font-weight="normal"  stroke="#000" stroke-width="0.28">-10</text>
<path d="M62.9 527.8H65.5" stroke="#000" stroke-width="1"/>
<text x="58.9" y="531.5" font-size="10" text-anchor="end" fill="#000" font-weight="normal"  stroke="#000" stroke-width="0.28">-5</text>
<path d="M62.9 546.9H65.5" stroke="#000" stroke-width="1"/>
<text x="58.9" y="550.6" font-size="10" text-anchor="end" fill="#000" font-weight="normal"  stroke="#000" stroke-width="0.28">0</text>
<rect x="67.4" y="499.3" width="14.7" height="47.6" fill="#ee1c22" stroke="#9a1010" stroke-width="0.6"/>
<path d="M74.8 496.6V502.0M73.0 496.6H76.5M73.0 502.0H76.5" stroke="#111" stroke-width="0.9"/>
<path d="M74.8 546.9V549.9" stroke="#000" stroke-width="0.9"/>
<text transform="translate(70.2,551.2) rotate(90)" font-size="12" fill="#000" stroke="#000" stroke-width="0.28">Hexane</text>
<rect x="85.5" y="527.0" width="14.7" height="19.9" fill="#ee1c22" stroke="#9a1010" stroke-width="0.6"/>
<path d="M92.9 522.8V530.8M91.1 522.8H94.7M91.1 530.8H94.7" stroke="#111" stroke-width="0.9"/>
<path d="M92.9 546.9V549.9" stroke="#000" stroke-width="0.9"/>
<text transform="translate(88.3,551.2) rotate(90)" font-size="12" fill="#000" stroke="#000" stroke-width="0.28">Cyclohexane</text>
<rect x="103.6" y="493.4" width="14.7" height="53.5" fill="#ee1c22" stroke="#9a1010" stroke-width="0.6"/>
<path d="M111.0 473.4V513.4M109.2 473.4H112.8M109.2 513.4H112.8" stroke="#111" stroke-width="0.9"/>
<path d="M111.0 546.9V549.9" stroke="#000" stroke-width="0.9"/>
<text transform="translate(106.4,551.2) rotate(90)" font-size="12" fill="#000" stroke="#000" stroke-width="0.28">1,4-Dioxane</text>
<rect x="121.7" y="510.2" width="14.7" height="36.7" fill="#ee1c22" stroke="#9a1010" stroke-width="0.6"/>
<path d="M129.1 505.6V515.0M127.3 505.6H130.9M127.3 515.0H130.9" stroke="#111" stroke-width="0.9"/>
<path d="M129.1 546.9V549.9" stroke="#000" stroke-width="0.9"/>
<text transform="translate(124.5,551.2) rotate(90)" font-size="12" fill="#000" stroke="#000" stroke-width="0.28"><tspan font-style="italic">p</tspan>-Xylene</text>
<rect x="139.8" y="494.7" width="14.7" height="52.2" fill="#ee1c22" stroke="#9a1010" stroke-width="0.6"/>
<path d="M147.2 487.7V502.4M145.4 487.7H149.0M145.4 502.4H149.0" stroke="#111" stroke-width="0.9"/>
<path d="M147.2 546.9V549.9" stroke="#000" stroke-width="0.9"/>
<text transform="translate(142.6,551.2) rotate(90)" font-size="12" fill="#000" stroke="#000" stroke-width="0.28"><tspan font-style="italic">m</tspan>-Xylene</text>
<rect x="157.9" y="493.0" width="14.7" height="53.9" fill="#ee1c22" stroke="#9a1010" stroke-width="0.6"/>
<path d="M165.3 487.7V497.8M163.5 487.7H167.1M163.5 497.8H167.1" stroke="#111" stroke-width="0.9"/>
<path d="M165.3 546.9V549.9" stroke="#000" stroke-width="0.9"/>
<text transform="translate(160.7,551.2) rotate(90)" font-size="12" fill="#000" stroke="#000" stroke-width="0.28">Toluene</text>
<rect x="176.1" y="478.9" width="14.7" height="68.0" fill="#ee1c22" stroke="#9a1010" stroke-width="0.6"/>
<path d="M183.4 475.1V482.9M181.6 475.1H185.2M181.6 482.9H185.2" stroke="#111" stroke-width="0.9"/>
<path d="M183.4 546.9V549.9" stroke="#000" stroke-width="0.9"/>
<text transform="translate(178.8,551.2) rotate(90)" font-size="12" fill="#000" stroke="#000" stroke-width="0.28">Ethylbenzene</text>
<rect x="194.2" y="474.7" width="14.7" height="72.2" fill="#ee1c22" stroke="#9a1010" stroke-width="0.6"/>
<path d="M201.5 462.5V487.1M199.7 462.5H203.3M199.7 487.1H203.3" stroke="#111" stroke-width="0.9"/>
<path d="M201.5 546.9V549.9" stroke="#000" stroke-width="0.9"/>
<text transform="translate(196.9,551.2) rotate(90)" font-size="12" fill="#000" stroke="#000" stroke-width="0.28"><tspan font-style="italic">o</tspan>-Xylene</text>
<rect x="212.3" y="408.9" width="14.7" height="138.0" fill="#ee1c22" stroke="#9a1010" stroke-width="0.6"/>
<rect x="211.3" y="428.8" width="16.7" height="3" fill="#fff"/>
<path d="M219.6 402.6V415.2M217.8 402.6H221.4M217.8 415.2H221.4" stroke="#111" stroke-width="0.9"/>
<path d="M219.6 546.9V549.9" stroke="#000" stroke-width="0.9"/>
<text transform="translate(215.0,551.2) rotate(90)" font-size="12" fill="#000" stroke="#000" stroke-width="0.28">Diethyl Ether</text>
<rect x="230.4" y="411.9" width="14.7" height="135.0" fill="#ee1c22" stroke="#9a1010" stroke-width="0.6"/>
<rect x="229.4" y="428.8" width="16.7" height="3" fill="#fff"/>
<path d="M237.7 405.3V418.4M235.9 405.3H239.5M235.9 418.4H239.5" stroke="#111" stroke-width="0.9"/>
<path d="M237.7 546.9V549.9" stroke="#000" stroke-width="0.9"/>
<text transform="translate(233.1,551.2) rotate(90)" font-size="12" fill="#000" stroke="#000" stroke-width="0.28">Chloroform</text>
<path d="M37.7 546.0V400.8" stroke="#000" stroke-width="1.6"/>
<path d="M34.8 402.6L37.7 395.8L40.6 402.6Z" fill="#000"/>
<text transform="translate(32,478) rotate(-90)" font-size="12" text-anchor="middle" stroke="#000" stroke-width="0.28">Charge per mass (nC/g)</text>
<text x="139.0" y="412.7" font-size="12" text-anchor="middle" fill="#000" font-weight="normal"  stroke="#000" stroke-width="0.28">Negatively</text>
<text x="139.5" y="427.0" font-size="12" text-anchor="middle" fill="#000" font-weight="normal"  stroke="#000" stroke-width="0.28">charged droplets</text>
<path d="M66.3 634.5H238.5" stroke="#000" stroke-width="1.2"/>
<path d="M236.5 631.9L243.5 634.5L236.5 637.1Z" fill="#000"/>
<text x="66.3" y="646.2" font-size="12" text-anchor="start" fill="#000" font-weight="normal"  stroke="#000" stroke-width="0.28">Increasing Dielectric Constant</text>
<path d="M293.1 404.3V546.9H473.5" stroke="#000" stroke-width="1.1" fill="none"/>
<path d="M289.6 431.2L296.6 427.8L296.6 430.4L289.6 433.8Z" fill="#fff"/>
<path d="M289.6 431.2L296.6 427.8M289.6 433.8L296.6 430.4" stroke="#000" stroke-width="0.9"/>
<path d="M290.5 404.3H293.1" stroke="#000" stroke-width="1"/>
<text x="288.4" y="408.0" font-size="10.5" text-anchor="end" fill="#000" font-weight="normal"  stroke="#000" stroke-width="0.28">90</text>
<path d="M290.5 431.0H293.1" stroke="#000" stroke-width="1"/>
<text x="288.4" y="434.7" font-size="10.5" text-anchor="end" fill="#000" font-weight="normal"  stroke="#000" stroke-width="0.28">45</text>
<path d="M290.5 451.1H293.1" stroke="#000" stroke-width="1"/>
<text x="288.4" y="454.8" font-size="10.5" text-anchor="end" fill="#000" font-weight="normal"  stroke="#000" stroke-width="0.28">25</text>
<path d="M290.5 470.4H293.1" stroke="#000" stroke-width="1"/>
<text x="288.4" y="474.1" font-size="10.5" text-anchor="end" fill="#000" font-weight="normal"  stroke="#000" stroke-width="0.28">20</text>
<path d="M290.5 489.5H293.1" stroke="#000" stroke-width="1"/>
<text x="288.4" y="493.2" font-size="10.5" text-anchor="end" fill="#000" font-weight="normal"  stroke="#000" stroke-width="0.28">15</text>
<path d="M290.5 508.7H293.1" stroke="#000" stroke-width="1"/>
<text x="288.4" y="512.4" font-size="10.5" text-anchor="end" fill="#000" font-weight="normal"  stroke="#000" stroke-width="0.28">10</text>
<path d="M290.5 527.8H293.1" stroke="#000" stroke-width="1"/>
<text x="288.4" y="531.5" font-size="10.5" text-anchor="end" fill="#000" font-weight="normal"  stroke="#000" stroke-width="0.28">5</text>
<path d="M290.5 546.9H293.1" stroke="#000" stroke-width="1"/>
<text x="288.4" y="550.6" font-size="10.5" text-anchor="end" fill="#000" font-weight="normal"  stroke="#000" stroke-width="0.28">0</text>
<rect x="295.6" y="529.1" width="14.6" height="17.8" fill="#3848e4" stroke="#1a2290" stroke-width="0.6"/>
<path d="M302.9 523.9V535.0M301.1 523.9H304.7M301.1 535.0H304.7" stroke="#111" stroke-width="0.9"/>
<path d="M302.9 546.9V549.9" stroke="#000" stroke-width="0.9"/>
<text transform="translate(298.3,551.2) rotate(90)" font-size="12" fill="#000" stroke="#000" stroke-width="0.28">Hexane</text>
<rect x="313.7" y="536.5" width="14.6" height="10.4" fill="#3848e4" stroke="#1a2290" stroke-width="0.6"/>
<path d="M321.0 534.6V538.2M319.2 534.6H322.8M319.2 538.2H322.8" stroke="#111" stroke-width="0.9"/>
<path d="M321.0 546.9V549.9" stroke="#000" stroke-width="0.9"/>
<text transform="translate(316.4,551.2) rotate(90)" font-size="12" fill="#000" stroke="#000" stroke-width="0.28">Cyclohexane</text>
<rect x="331.7" y="509.4" width="14.6" height="37.5" fill="#3848e4" stroke="#1a2290" stroke-width="0.6"/>
<path d="M339.0 500.8V517.6M337.2 500.8H340.8M337.2 517.6H340.8" stroke="#111" stroke-width="0.9"/>
<path d="M339.0 546.9V549.9" stroke="#000" stroke-width="0.9"/>
<text transform="translate(334.4,551.2) rotate(90)" font-size="12" fill="#000" stroke="#000" stroke-width="0.28">1,4-Dioxane</text>
<rect x="349.8" y="517.2" width="14.6" height="29.7" fill="#3848e4" stroke="#1a2290" stroke-width="0.6"/>
<path d="M357.1 510.8V524.5M355.3 510.8H358.9M355.3 524.5H358.9" stroke="#111" stroke-width="0.9"/>
<path d="M357.1 546.9V549.9" stroke="#000" stroke-width="0.9"/>
<text transform="translate(352.5,551.2) rotate(90)" font-size="12" fill="#000" stroke="#000" stroke-width="0.28"><tspan font-style="italic">p</tspan>-Xylene</text>
<rect x="367.9" y="495.5" width="14.6" height="51.4" fill="#3848e4" stroke="#1a2290" stroke-width="0.6"/>
<path d="M375.2 486.0V505.0M373.4 486.0H377.0M373.4 505.0H377.0" stroke="#111" stroke-width="0.9"/>
<path d="M375.2 546.9V549.9" stroke="#000" stroke-width="0.9"/>
<text transform="translate(370.6,551.2) rotate(90)" font-size="12" fill="#000" stroke="#000" stroke-width="0.28"><tspan font-style="italic">m</tspan>-Xylene</text>
<rect x="386.0" y="494.0" width="14.6" height="52.9" fill="#3848e4" stroke="#1a2290" stroke-width="0.6"/>
<path d="M393.3 483.5V505.0M391.5 483.5H395.1M391.5 505.0H395.1" stroke="#111" stroke-width="0.9"/>
<path d="M393.3 546.9V549.9" stroke="#000" stroke-width="0.9"/>
<text transform="translate(388.7,551.2) rotate(90)" font-size="12" fill="#000" stroke="#000" stroke-width="0.28">Toluene</text>
<rect x="404.0" y="499.9" width="14.6" height="47.0" fill="#3848e4" stroke="#1a2290" stroke-width="0.6"/>
<path d="M411.3 496.1V504.5M409.5 496.1H413.1M409.5 504.5H413.1" stroke="#111" stroke-width="0.9"/>
<path d="M411.3 546.9V549.9" stroke="#000" stroke-width="0.9"/>
<text transform="translate(406.7,551.2) rotate(90)" font-size="12" fill="#000" stroke="#000" stroke-width="0.28">Ethylbenzene</text>
<rect x="422.1" y="492.4" width="14.6" height="54.5" fill="#3848e4" stroke="#1a2290" stroke-width="0.6"/>
<path d="M429.4 479.3V505.6M427.6 479.3H431.2M427.6 505.6H431.2" stroke="#111" stroke-width="0.9"/>
<path d="M429.4 546.9V549.9" stroke="#000" stroke-width="0.9"/>
<text transform="translate(424.8,551.2) rotate(90)" font-size="12" fill="#000" stroke="#000" stroke-width="0.28"><tspan font-style="italic">o</tspan>-Xylene</text>
<rect x="440.2" y="415.2" width="14.6" height="131.7" fill="#3848e4" stroke="#1a2290" stroke-width="0.6"/>
<rect x="439.2" y="428.8" width="16.6" height="3" fill="#fff"/>
<path d="M447.5 402.2V427.8M445.7 402.2H449.3M445.7 427.8H449.3" stroke="#111" stroke-width="0.9"/>
<path d="M447.5 546.9V549.9" stroke="#000" stroke-width="0.9"/>
<text transform="translate(442.9,551.2) rotate(90)" font-size="12" fill="#000" stroke="#000" stroke-width="0.28">Diethyl Ether</text>
<rect x="458.2" y="462.1" width="14.6" height="84.8" fill="#3848e4" stroke="#1a2290" stroke-width="0.6"/>
<path d="M465.5 437.3V487.1M463.7 437.3H467.3M463.7 487.1H467.3" stroke="#111" stroke-width="0.9"/>
<path d="M465.5 546.9V549.9" stroke="#000" stroke-width="0.9"/>
<text transform="translate(460.9,551.2) rotate(90)" font-size="12" fill="#000" stroke="#000" stroke-width="0.28">Chloroform</text>
<path d="M268.1 546.5V400.3" stroke="#000" stroke-width="1.6"/>
<path d="M265.2 402.1L268.1 395.3L271.0 402.1Z" fill="#000"/>
<text transform="translate(263.2,474.6) rotate(-90)" font-size="12" text-anchor="middle" stroke="#000" stroke-width="0.28">Charge per mass (nC/g)</text>
<text x="368.5" y="412.7" font-size="12" text-anchor="middle" fill="#000" font-weight="normal"  stroke="#000" stroke-width="0.28">Positively</text>
<text x="368.3" y="427.3" font-size="12" text-anchor="middle" fill="#000" font-weight="normal"  stroke="#000" stroke-width="0.28">charged droplets</text>
<path d="M298.9 634.5H470.0" stroke="#000" stroke-width="1.2"/>
<path d="M468.0 631.9L475.0 634.5L468.0 637.1Z" fill="#000"/>
<text x="298.9" y="646.2" font-size="12" text-anchor="start" fill="#000" font-weight="normal"  stroke="#000" stroke-width="0.28">Increasing Dielectric Constant</text>
<path d="M515.1 404.3V546.9H563.5" stroke="#9090cc" stroke-width="1.1" fill="none"/>
<path d="M511.6 431.2L518.6 427.8L518.6 430.4L511.6 433.8Z" fill="#fff"/>
<path d="M511.6 431.2L518.6 427.8M511.6 433.8L518.6 430.4" stroke="#9090cc" stroke-width="0.9"/>
<path d="M512.5 404.3H515.1" stroke="#9090cc" stroke-width="1"/>
<text x="510.2" y="408.0" font-size="10.5" text-anchor="end" fill="#2e48b8" font-weight="normal"  stroke="#2e48b8" stroke-width="0.28">90</text>
<path d="M512.5 431.0H515.1" stroke="#9090cc" stroke-width="1"/>
<text x="510.2" y="434.7" font-size="10.5" text-anchor="end" fill="#2e48b8" font-weight="normal"  stroke="#2e48b8" stroke-width="0.28">45</text>
<path d="M512.5 451.1H515.1" stroke="#9090cc" stroke-width="1"/>
<text x="510.2" y="454.8" font-size="10.5" text-anchor="end" fill="#2e48b8" font-weight="normal"  stroke="#2e48b8" stroke-width="0.28">25</text>
<path d="M512.5 470.4H515.1" stroke="#9090cc" stroke-width="1"/>
<text x="510.2" y="474.1" font-size="10.5" text-anchor="end" fill="#2e48b8" font-weight="normal"  stroke="#2e48b8" stroke-width="0.28">20</text>
<path d="M512.5 489.5H515.1" stroke="#9090cc" stroke-width="1"/>
<text x="510.2" y="493.2" font-size="10.5" text-anchor="end" fill="#2e48b8" font-weight="normal"  stroke="#2e48b8" stroke-width="0.28">15</text>
<path d="M512.5 508.7H515.1" stroke="#9090cc" stroke-width="1"/>
<text x="510.2" y="512.4" font-size="10.5" text-anchor="end" fill="#2e48b8" font-weight="normal"  stroke="#2e48b8" stroke-width="0.28">10</text>
<path d="M512.5 527.8H515.1" stroke="#9090cc" stroke-width="1"/>
<text x="510.2" y="531.5" font-size="10.5" text-anchor="end" fill="#2e48b8" font-weight="normal"  stroke="#2e48b8" stroke-width="0.28">5</text>
<path d="M512.5 546.9H515.1" stroke="#9090cc" stroke-width="1"/>
<text x="510.2" y="550.6" font-size="10.5" text-anchor="end" fill="#2e48b8" font-weight="normal"  stroke="#2e48b8" stroke-width="0.28">0</text>
<rect x="515.9" y="454.2" width="14.0" height="92.7" fill="#5eefd0" stroke="#3cc0a8" stroke-width="0.6"/>
<path d="M522.9 452.6V456.7M521.1 452.6H524.7M521.1 456.7H524.7" stroke="#111" stroke-width="0.9"/>
<path d="M522.9 546.9V549.9" stroke="#9090cc" stroke-width="0.9"/>
<text transform="translate(518.3,551.2) rotate(90)" font-size="12" fill="#3048b8" stroke="#3048b8" stroke-width="0.28">Water (4 kV)</text>
<rect x="532.5" y="473.3" width="14.0" height="73.6" fill="#5eefd0" stroke="#3cc0a8" stroke-width="0.6"/>
<path d="M539.5 470.1V477.1M537.7 470.1H541.3M537.7 477.1H541.3" stroke="#111" stroke-width="0.9"/>
<path d="M539.5 546.9V549.9" stroke="#9090cc" stroke-width="0.9"/>
<text transform="translate(534.9,551.2) rotate(90)" font-size="12" fill="#3048b8" stroke="#3048b8" stroke-width="0.28">Water (2 kV)</text>
<rect x="549.1" y="510.1" width="14.0" height="36.8" fill="#5eefd0" stroke="#3cc0a8" stroke-width="0.6"/>
<path d="M556.1 507.6V512.9M554.3 507.6H557.9M554.3 512.9H557.9" stroke="#111" stroke-width="0.9"/>
<path d="M556.1 546.9V549.9" stroke="#9090cc" stroke-width="0.9"/>
<text transform="translate(551.5,551.2) rotate(90)" font-size="12" fill="#3048b8" stroke="#3048b8" stroke-width="0.28">Water (1 kV)</text>
<path d="M494.0 546.5V399.9" stroke="#000" stroke-width="1.6"/>
<path d="M491.1 401.7L494.0 394.9L496.9 401.7Z" fill="#000"/>
<text transform="translate(489.5,474.6) rotate(-90)" font-size="12.2" text-anchor="middle" stroke="#000" stroke-width="0.28">Charge per mass (nC/g)</text>
<text x="6.0" y="668.8" font-size="18.5" text-anchor="start" fill="#000" font-weight="bold" >e</text>
<path d="M58.4 663.7V782.5H228.0" stroke="#000" stroke-width="1.2" fill="none"/>
<path d="M54.2 663.7H58.4" stroke="#000" stroke-width="1.1"/>
<text x="52.4" y="668.0" font-size="12.3" text-anchor="end" fill="#000" font-weight="normal"  stroke="#000" stroke-width="0.28">4</text>
<path d="M54.2 703.5H58.4" stroke="#000" stroke-width="1.1"/>
<text x="52.4" y="707.8" font-size="12.3" text-anchor="end" fill="#000" font-weight="normal"  stroke="#000" stroke-width="0.28">0</text>
<path d="M54.2 743.1H58.4" stroke="#000" stroke-width="1.1"/>
<text x="52.4" y="747.4" font-size="12.3" text-anchor="end" fill="#000" font-weight="normal"  stroke="#000" stroke-width="0.28">-4</text>
<path d="M54.2 782.5H58.4" stroke="#000" stroke-width="1.1"/>
<text x="52.4" y="786.8" font-size="12.3" text-anchor="end" fill="#000" font-weight="normal"  stroke="#000" stroke-width="0.28">-8</text>
<path d="M58.5 782.5V786.7" stroke="#000" stroke-width="1.1"/>
<text x="58.5" y="799.8" font-size="12.3" text-anchor="middle" fill="#000" font-weight="normal"  stroke="#000" stroke-width="0.28">-8</text>
<path d="M114.6 782.5V786.7" stroke="#000" stroke-width="1.1"/>
<text x="114.6" y="799.8" font-size="12.3" text-anchor="middle" fill="#000" font-weight="normal"  stroke="#000" stroke-width="0.28">-4</text>
<path d="M171.0 782.5V786.7" stroke="#000" stroke-width="1.1"/>
<text x="171.0" y="799.8" font-size="12.3" text-anchor="middle" fill="#000" font-weight="normal"  stroke="#000" stroke-width="0.28">0</text>
<path d="M227.6 782.5V786.7" stroke="#000" stroke-width="1.1"/>
<text x="227.6" y="799.8" font-size="12.3" text-anchor="middle" fill="#000" font-weight="normal"  stroke="#000" stroke-width="0.28">4</text>
<text x="85.2" y="814.1" font-size="12.5" text-anchor="start" fill="#000" font-weight="normal"  stroke="#000" stroke-width="0.28">Charge of PTFE (nC)</text>
<text transform="translate(36.2,727.0) rotate(-90)" font-size="12.5" text-anchor="middle" stroke="#000" stroke-width="0.28">Charge of Toluene (nC)</text>
<rect x="74.0" y="759.4" width="4.2" height="4.2" fill="#000"/>
<rect x="74.0" y="763.6" width="4.2" height="4.2" fill="#000"/>
<rect x="79.9" y="760.5" width="4.2" height="4.2" fill="#000"/>
<rect x="85.2" y="746.4" width="4.2" height="4.2" fill="#000"/>
<rect x="88.8" y="755.2" width="4.2" height="4.2" fill="#000"/>
<rect x="92.5" y="751.0" width="4.2" height="4.2" fill="#000"/>
<rect x="98.4" y="747.4" width="4.2" height="4.2" fill="#000"/>
<rect x="99.3" y="736.7" width="4.2" height="4.2" fill="#000"/>
<rect x="106.8" y="737.8" width="4.2" height="4.2" fill="#000"/>
<rect x="110.4" y="738.8" width="4.2" height="4.2" fill="#000"/>
<rect x="112.5" y="739.9" width="4.2" height="4.2" fill="#000"/>
<rect x="118.8" y="732.5" width="4.2" height="4.2" fill="#000"/>
<rect x="205.0" y="676.7" width="4.2" height="4.2" fill="#000"/>
<rect x="201.0" y="681.9" width="4.2" height="4.2" fill="#000"/>
<rect x="192.0" y="686.2" width="4.2" height="4.2" fill="#000"/>
<rect x="187.3" y="688.9" width="4.2" height="4.2" fill="#000"/>
<rect x="188.2" y="692.7" width="4.2" height="4.2" fill="#000"/>
<rect x="185.7" y="692.0" width="4.2" height="4.2" fill="#000"/>
<rect x="181.5" y="694.1" width="4.2" height="4.2" fill="#000"/>
<rect x="179.4" y="694.6" width="4.2" height="4.2" fill="#000"/>
<rect x="164.6" y="703.6" width="4.2" height="4.2" fill="#000"/>
<rect x="157.3" y="708.4" width="4.2" height="4.2" fill="#000"/>
<rect x="153.7" y="712.0" width="4.2" height="4.2" fill="#000"/>
<rect x="146.8" y="715.6" width="4.2" height="4.2" fill="#000"/>
<rect x="138.4" y="721.9" width="4.2" height="4.2" fill="#000"/>
<rect x="136.3" y="723.1" width="4.2" height="4.2" fill="#000"/>
<rect x="132.7" y="725.7" width="4.2" height="4.2" fill="#000"/>
<rect x="122.6" y="723.1" width="4.2" height="4.2" fill="#000"/>
<text x="255.6" y="668.3" font-size="18.5" text-anchor="start" fill="#000" font-weight="bold" >f</text>
<path d="M305.5 666.4V784.8H475.2" stroke="#000" stroke-width="1.2" fill="none"/>
<path d="M301.3 666.4H305.5" stroke="#000" stroke-width="1.1"/>
<text x="299.5" y="670.7" font-size="12.3" text-anchor="end" fill="#000" font-weight="normal"  stroke="#000" stroke-width="0.28">2</text>
<path d="M301.3 700.4H305.5" stroke="#000" stroke-width="1.1"/>
<text x="299.5" y="704.7" font-size="12.3" text-anchor="end" fill="#000" font-weight="normal"  stroke="#000" stroke-width="0.28">0</text>
<path d="M301.3 734.3H305.5" stroke="#000" stroke-width="1.1"/>
<text x="299.5" y="738.6" font-size="12.3" text-anchor="end" fill="#000" font-weight="normal"  stroke="#000" stroke-width="0.28">-2</text>
<path d="M301.3 768.1H305.5" stroke="#000" stroke-width="1.1"/>
<text x="299.5" y="772.4" font-size="12.3" text-anchor="end" fill="#000" font-weight="normal"  stroke="#000" stroke-width="0.28">-4</text>
<path d="M312.1 784.8V789.0" stroke="#000" stroke-width="1.1"/>
<text x="312.1" y="801.9" font-size="12.3" text-anchor="middle" fill="#000" font-weight="normal"  stroke="#000" stroke-width="0.28">-8</text>
<path d="M364.0 784.8V789.0" stroke="#000" stroke-width="1.1"/>
<text x="364.0" y="801.9" font-size="12.3" text-anchor="middle" fill="#000" font-weight="normal"  stroke="#000" stroke-width="0.28">-4</text>
<path d="M415.9 784.8V789.0" stroke="#000" stroke-width="1.1"/>
<text x="415.9" y="801.9" font-size="12.3" text-anchor="middle" fill="#000" font-weight="normal"  stroke="#000" stroke-width="0.28">0</text>
<path d="M468.2 784.8V789.0" stroke="#000" stroke-width="1.1"/>
<text x="468.2" y="801.9" font-size="12.3" text-anchor="middle" fill="#000" font-weight="normal"  stroke="#000" stroke-width="0.28">4</text>
<text x="331.0" y="816.2" font-size="12.5" text-anchor="start" fill="#000" font-weight="normal"  stroke="#000" stroke-width="0.28">Charge of PTFE (nC)</text>
<text transform="translate(283.2,723.8) rotate(-90)" font-size="12.5" text-anchor="middle" stroke="#000" stroke-width="0.28">Charge of Hexane (nC)</text>
<rect x="311.4" y="761.1" width="4.2" height="4.2" fill="#000"/>
<rect x="324.7" y="772.5" width="4.2" height="4.2" fill="#000"/>
<rect x="321.1" y="744.3" width="4.2" height="4.2" fill="#000"/>
<rect x="323.6" y="743.7" width="4.2" height="4.2" fill="#000"/>
<rect x="333.7" y="743.0" width="4.2" height="4.2" fill="#000"/>
<rect x="335.8" y="734.6" width="4.2" height="4.2" fill="#000"/>
<rect x="339.4" y="742.6" width="4.2" height="4.2" fill="#000"/>
<rect x="337.3" y="754.2" width="4.2" height="4.2" fill="#000"/>
<rect x="343.0" y="732.1" width="4.2" height="4.2" fill="#000"/>
<rect x="355.6" y="732.1" width="4.2" height="4.2" fill="#000"/>
<rect x="355.6" y="729.4" width="4.2" height="4.2" fill="#000"/>
<rect x="443.5" y="669.3" width="4.2" height="4.2" fill="#000"/>
<rect x="456.8" y="675.9" width="4.2" height="4.2" fill="#000"/>
<rect x="427.8" y="681.5" width="4.2" height="4.2" fill="#000"/>
<rect x="424.0" y="686.8" width="4.2" height="4.2" fill="#000"/>
<rect x="421.5" y="691.4" width="4.2" height="4.2" fill="#000"/>
<rect x="426.7" y="691.6" width="4.2" height="4.2" fill="#000"/>
<rect x="407.2" y="699.4" width="4.2" height="4.2" fill="#000"/>
<rect x="397.9" y="705.1" width="4.2" height="4.2" fill="#000"/>
<rect x="397.3" y="707.8" width="4.2" height="4.2" fill="#000"/>
<rect x="400.4" y="709.3" width="4.2" height="4.2" fill="#000"/>
<rect x="391.0" y="717.3" width="4.2" height="4.2" fill="#000"/>
<rect x="377.3" y="715.6" width="4.2" height="4.2" fill="#000"/>
<rect x="372.7" y="719.8" width="4.2" height="4.2" fill="#000"/>
<rect x="371.0" y="722.5" width="4.2" height="4.2" fill="#000"/>
<rect x="378.4" y="724.0" width="4.2" height="4.2" fill="#000"/>
<rect x="381.1" y="726.1" width="4.2" height="4.2" fill="#000"/>
<rect x="356.3" y="725.7" width="4.2" height="4.2" fill="#000"/>
<rect x="355.3" y="732.0" width="4.2" height="4.2" fill="#000"/>
<text x="7.2" y="834.5" font-size="18.5" text-anchor="start" fill="#000" font-weight="bold" >g</text>
<path d="M59.3 837.9V955.1H226.7" stroke="#000" stroke-width="1.2" fill="none"/>
<path d="M55.1 858.3H59.3" stroke="#000" stroke-width="1.1"/>
<text x="53.3" y="862.6" font-size="12.3" text-anchor="end" fill="#000" font-weight="normal"  stroke="#000" stroke-width="0.28">2</text>
<path d="M55.1 896.9H59.3" stroke="#000" stroke-width="1.1"/>
<text x="53.3" y="901.2" font-size="12.3" text-anchor="end" fill="#000" font-weight="normal"  stroke="#000" stroke-width="0.28">0</text>
<path d="M55.1 935.7H59.3" stroke="#000" stroke-width="1.1"/>
<text x="53.3" y="940.0" font-size="12.3" text-anchor="end" fill="#000" font-weight="normal"  stroke="#000" stroke-width="0.28">-2</text>
<path d="M59.4 955.1V959.3" stroke="#000" stroke-width="1.1"/>
<text x="59.4" y="973.4" font-size="12.3" text-anchor="middle" fill="#000" font-weight="normal"  stroke="#000" stroke-width="0.28">-8</text>
<path d="M114.1 955.1V959.3" stroke="#000" stroke-width="1.1"/>
<text x="114.1" y="973.4" font-size="12.3" text-anchor="middle" fill="#000" font-weight="normal"  stroke="#000" stroke-width="0.28">-4</text>
<path d="M170.4 955.1V959.3" stroke="#000" stroke-width="1.1"/>
<text x="170.4" y="973.4" font-size="12.3" text-anchor="middle" fill="#000" font-weight="normal"  stroke="#000" stroke-width="0.28">0</text>
<path d="M226.3 955.1V959.3" stroke="#000" stroke-width="1.1"/>
<text x="226.3" y="973.4" font-size="12.3" text-anchor="middle" fill="#000" font-weight="normal"  stroke="#000" stroke-width="0.28">4</text>
<text x="87.8" y="986.6" font-size="12.5" text-anchor="start" fill="#000" font-weight="normal"  stroke="#000" stroke-width="0.28">Charge of PTFE (nC)</text>
<text transform="translate(37.4,900.8) rotate(-90)" font-size="12.5" text-anchor="middle" stroke="#000" stroke-width="0.28">Charge of Silicone Oil (nC)</text>
<rect x="72.7" y="934.7" width="4.2" height="4.2" fill="#000"/>
<rect x="81.5" y="940.4" width="4.2" height="4.2" fill="#000"/>
<rect x="84.6" y="942.9" width="4.2" height="4.2" fill="#000"/>
<rect x="89.3" y="946.7" width="4.2" height="4.2" fill="#000"/>
<rect x="92.0" y="929.3" width="4.2" height="4.2" fill="#000"/>
<rect x="100.4" y="920.0" width="4.2" height="4.2" fill="#000"/>
<rect x="104.0" y="923.2" width="4.2" height="4.2" fill="#000"/>
<rect x="110.5" y="923.0" width="4.2" height="4.2" fill="#000"/>
<rect x="111.3" y="926.7" width="4.2" height="4.2" fill="#000"/>
<rect x="116.6" y="922.5" width="4.2" height="4.2" fill="#000"/>
<rect x="124.2" y="903.2" width="4.2" height="4.2" fill="#000"/>
<rect x="124.6" y="920.4" width="4.2" height="4.2" fill="#000"/>
<rect x="129.8" y="916.9" width="4.2" height="4.2" fill="#000"/>
<rect x="135.7" y="912.7" width="4.2" height="4.2" fill="#000"/>
<rect x="141.4" y="908.5" width="4.2" height="4.2" fill="#000"/>
<rect x="146.2" y="905.7" width="4.2" height="4.2" fill="#000"/>
<rect x="195.6" y="868.5" width="4.2" height="4.2" fill="#000"/>
<rect x="187.4" y="881.9" width="4.2" height="4.2" fill="#000"/>
<rect x="181.5" y="886.8" width="4.2" height="4.2" fill="#000"/>
<rect x="179.4" y="886.8" width="4.2" height="4.2" fill="#000"/>
<rect x="176.2" y="893.5" width="4.2" height="4.2" fill="#000"/>
<rect x="159.4" y="895.8" width="4.2" height="4.2" fill="#000"/>
<rect x="153.5" y="900.9" width="4.2" height="4.2" fill="#000"/>
<rect x="150.6" y="903.0" width="4.2" height="4.2" fill="#000"/>
<text x="253.8" y="834.3" font-size="18.5" text-anchor="start" fill="#000" font-weight="bold" >h</text>
<linearGradient id="dg1" gradientUnits="userSpaceOnUse" x1="275.6" y1="862.7" x2="312.0" y2="899.1"><stop offset="0.22" stop-color="#40d8d4"/><stop offset="0.5" stop-color="#7c7a98"/><stop offset="0.78" stop-color="#d6283a"/></linearGradient>
<ellipse cx="293.8" cy="880.9" rx="25.8" ry="16.6" fill="url(#dg1)" transform="rotate(45 293.8 880.9)"/>
<path d="M300.3 887.4L288.9 876.0" stroke="#000" stroke-width="1.6"/>
<path d="M285.8 872.9L291.6 874.6L287.5 878.7Z" fill="#000"/>
<path d="M296.8 887.3L300.2 883.9" stroke="#000" stroke-width="1.6"/>
<text x="283.0" y="872.1" font-family="Liberation Serif, serif" font-size="13" text-anchor="middle" fill="#0c0c70" stroke="#0c0c70" stroke-width="0.45">δ<tspan fill="#1a3ad8" stroke="#1a3ad8">−</tspan></text>
<text x="305.0" y="898.4" font-family="Liberation Serif, serif" font-size="13" text-anchor="middle" fill="#000" stroke="#000" stroke-width="0.45">δ+</text>
<linearGradient id="dg2" gradientUnits="userSpaceOnUse" x1="368.0" y1="862.7" x2="331.6" y2="899.1"><stop offset="0.22" stop-color="#40d8d4"/><stop offset="0.5" stop-color="#7c7a98"/><stop offset="0.78" stop-color="#d6283a"/></linearGradient>
<ellipse cx="349.8" cy="880.9" rx="25.8" ry="16.6" fill="url(#dg2)" transform="rotate(-45 349.8 880.9)"/>
<path d="M343.3 887.4L354.7 876.0" stroke="#000" stroke-width="1.6"/>
<path d="M357.8 872.9L356.1 878.7L352.0 874.6Z" fill="#000"/>
<path d="M343.4 883.9L346.8 887.3" stroke="#000" stroke-width="1.6"/>
<text x="360.6" y="872.1" font-family="Liberation Serif, serif" font-size="13" text-anchor="middle" fill="#0c0c70" stroke="#0c0c70" stroke-width="0.45">δ<tspan fill="#1a3ad8" stroke="#1a3ad8">−</tspan></text>
<text x="338.6" y="898.4" font-family="Liberation Serif, serif" font-size="13" text-anchor="middle" fill="#000" stroke="#000" stroke-width="0.45">δ+</text>
<linearGradient id="dg3" gradientUnits="userSpaceOnUse" x1="275.6" y1="955.7" x2="312.0" y2="919.3"><stop offset="0.22" stop-color="#40d8d4"/><stop offset="0.5" stop-color="#7c7a98"/><stop offset="0.78" stop-color="#d6283a"/></linearGradient>
<ellipse cx="293.8" cy="937.5" rx="25.8" ry="16.6" fill="url(#dg3)" transform="rotate(-45 293.8 937.5)"/>
<path d="M300.3 931.0L288.9 942.4" stroke="#000" stroke-width="1.6"/>
<path d="M285.8 945.5L287.5 939.7L291.6 943.8Z" fill="#000"/>
<path d="M300.2 934.5L296.8 931.1" stroke="#000" stroke-width="1.6"/>
<text x="283.0" y="955.5" font-family="Liberation Serif, serif" font-size="13" text-anchor="middle" fill="#0c0c70" stroke="#0c0c70" stroke-width="0.45">δ<tspan fill="#1a3ad8" stroke="#1a3ad8">−</tspan></text>
<text x="305.0" y="929.2" font-family="Liberation Serif, serif" font-size="13" text-anchor="middle" fill="#000" stroke="#000" stroke-width="0.45">δ+</text>
<linearGradient id="dg4" gradientUnits="userSpaceOnUse" x1="368.0" y1="955.7" x2="331.6" y2="919.3"><stop offset="0.22" stop-color="#40d8d4"/><stop offset="0.5" stop-color="#7c7a98"/><stop offset="0.78" stop-color="#d6283a"/></linearGradient>
<ellipse cx="349.8" cy="937.5" rx="25.8" ry="16.6" fill="url(#dg4)" transform="rotate(45 349.8 937.5)"/>
<path d="M343.3 931.0L354.7 942.4" stroke="#000" stroke-width="1.6"/>
<path d="M357.8 945.5L352.0 943.8L356.1 939.7Z" fill="#000"/>
<path d="M346.8 931.1L343.4 934.5" stroke="#000" stroke-width="1.6"/>
<text x="360.6" y="955.5" font-family="Liberation Serif, serif" font-size="13" text-anchor="middle" fill="#0c0c70" stroke="#0c0c70" stroke-width="0.45">δ<tspan fill="#1a3ad8" stroke="#1a3ad8">−</tspan></text>
<text x="338.6" y="929.2" font-family="Liberation Serif, serif" font-size="13" text-anchor="middle" fill="#000" stroke="#000" stroke-width="0.45">δ+</text>
<linearGradient id="dg5" gradientUnits="userSpaceOnUse" x1="427.6" y1="899.7" x2="391.2" y2="863.3"><stop offset="0.22" stop-color="#40d8d4"/><stop offset="0.5" stop-color="#7c7a98"/><stop offset="0.78" stop-color="#d6283a"/></linearGradient>
<ellipse cx="409.4" cy="881.5" rx="25.8" ry="16.6" fill="url(#dg5)" transform="rotate(45 409.4 881.5)"/>
<path d="M402.9 875.0L414.3 886.4" stroke="#000" stroke-width="1.6"/>
<path d="M417.4 889.5L411.6 887.8L415.7 883.7Z" fill="#000"/>
<path d="M406.4 875.1L403.0 878.5" stroke="#000" stroke-width="1.6"/>
<text x="420.2" y="899.5" font-family="Liberation Serif, serif" font-size="13" text-anchor="middle" fill="#0c0c70" stroke="#0c0c70" stroke-width="0.45">δ<tspan fill="#1a3ad8" stroke="#1a3ad8">−</tspan></text>
<text x="398.2" y="873.2" font-family="Liberation Serif, serif" font-size="13" text-anchor="middle" fill="#000" stroke="#000" stroke-width="0.45">δ+</text>
<linearGradient id="dg6" gradientUnits="userSpaceOnUse" x1="447.6" y1="899.7" x2="484.0" y2="863.3"><stop offset="0.22" stop-color="#40d8d4"/><stop offset="0.5" stop-color="#7c7a98"/><stop offset="0.78" stop-color="#d6283a"/></linearGradient>
<ellipse cx="465.8" cy="881.5" rx="25.8" ry="16.6" fill="url(#dg6)" transform="rotate(-45 465.8 881.5)"/>
<path d="M472.3 875.0L460.9 886.4" stroke="#000" stroke-width="1.6"/>
<path d="M457.8 889.5L459.5 883.7L463.6 887.8Z" fill="#000"/>
<path d="M472.2 878.5L468.8 875.1" stroke="#000" stroke-width="1.6"/>
<text x="455.0" y="899.5" font-family="Liberation Serif, serif" font-size="13" text-anchor="middle" fill="#0c0c70" stroke="#0c0c70" stroke-width="0.45">δ<tspan fill="#1a3ad8" stroke="#1a3ad8">−</tspan></text>
<text x="477.0" y="873.2" font-family="Liberation Serif, serif" font-size="13" text-anchor="middle" fill="#000" stroke="#000" stroke-width="0.45">δ+</text>
<linearGradient id="dg7" gradientUnits="userSpaceOnUse" x1="427.6" y1="919.9" x2="391.2" y2="956.3"><stop offset="0.22" stop-color="#40d8d4"/><stop offset="0.5" stop-color="#7c7a98"/><stop offset="0.78" stop-color="#d6283a"/></linearGradient>
<ellipse cx="409.4" cy="938.1" rx="25.8" ry="16.6" fill="url(#dg7)" transform="rotate(-45 409.4 938.1)"/>
<path d="M402.9 944.6L414.3 933.2" stroke="#000" stroke-width="1.6"/>
<path d="M417.4 930.1L415.7 935.9L411.6 931.8Z" fill="#000"/>
<path d="M403.0 941.1L406.4 944.5" stroke="#000" stroke-width="1.6"/>
<text x="420.2" y="929.3" font-family="Liberation Serif, serif" font-size="13" text-anchor="middle" fill="#0c0c70" stroke="#0c0c70" stroke-width="0.45">δ<tspan fill="#1a3ad8" stroke="#1a3ad8">−</tspan></text>
<text x="398.2" y="955.6" font-family="Liberation Serif, serif" font-size="13" text-anchor="middle" fill="#000" stroke="#000" stroke-width="0.45">δ+</text>
<linearGradient id="dg8" gradientUnits="userSpaceOnUse" x1="447.6" y1="919.9" x2="484.0" y2="956.3"><stop offset="0.22" stop-color="#40d8d4"/><stop offset="0.5" stop-color="#7c7a98"/><stop offset="0.78" stop-color="#d6283a"/></linearGradient>
<ellipse cx="465.8" cy="938.1" rx="25.8" ry="16.6" fill="url(#dg8)" transform="rotate(45 465.8 938.1)"/>
<path d="M472.3 944.6L460.9 933.2" stroke="#000" stroke-width="1.6"/>
<path d="M457.8 930.1L463.6 931.8L459.5 935.9Z" fill="#000"/>
<path d="M468.8 944.5L472.2 941.1" stroke="#000" stroke-width="1.6"/>
<text x="455.0" y="929.3" font-family="Liberation Serif, serif" font-size="13" text-anchor="middle" fill="#0c0c70" stroke="#0c0c70" stroke-width="0.45">δ<tspan fill="#1a3ad8" stroke="#1a3ad8">−</tspan></text>
<text x="477.0" y="955.6" font-family="Liberation Serif, serif" font-size="13" text-anchor="middle" fill="#000" stroke="#000" stroke-width="0.45">δ+</text>
<circle cx="322.8" cy="908.7" r="12.3" fill="#48dad4"/>
<rect x="312.7" y="906" width="20.4" height="5.6" fill="#fff"/>
<circle cx="437.6" cy="909.8" r="12.4" fill="#e01e30"/>
<path d="M427.9 906.9H447.6V912.8H427.9Z M434.7 900.4H441.1V920.3H434.7Z" fill="#fff"/>
</svg></body></html>
